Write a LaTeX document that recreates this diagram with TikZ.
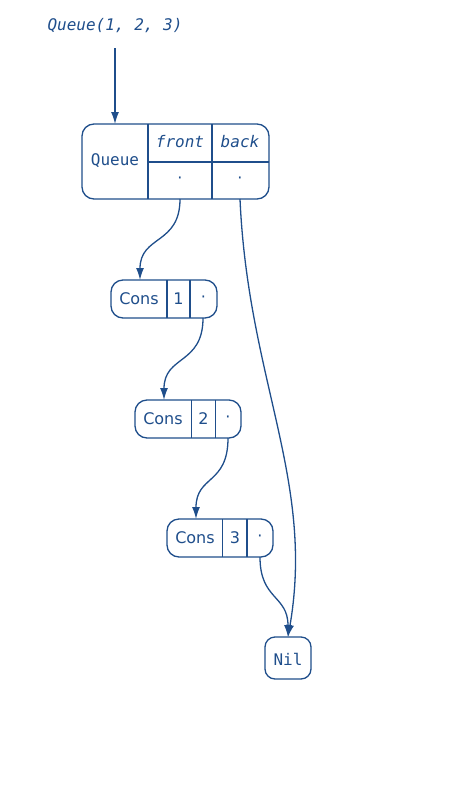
\documentclass[tikz,border=0pt]{standalone}
\usepackage{fontspec}
\setsansfont{DejaVu Sans}
\setmonofont{DejaVu Sans Mono}
\usetikzlibrary{arrows.meta}
\definecolor{qblue}{RGB}{31,78,139}
\begin{document}
\begin{tikzpicture}[x=1pt,y=1pt,
  box/.style={draw=qblue, line width=1.3pt, rounded corners=12pt, inner sep=0pt},
  divider/.style={draw=qblue, line width=1.2pt},
  mono/.style={text=qblue, font=\fontsize{16}{18}\selectfont\ttfamily},
  monoit/.style={text=qblue, font=\fontsize{16}{18}\selectfont\ttfamily\itshape},
  sans/.style={text=qblue, font=\fontsize{16}{18}\selectfont\sffamily},
  dotc/.style={text=qblue, font=\fontsize{16}{18}\selectfont\sffamily, inner sep=0pt},
  link/.style={draw=qblue, line width=1.3pt, -{Latex[length=12pt,width=8pt]}}]
\useasboundingbox (0,0) rectangle (474,-809);

% title
\node[monoit] (title) at (115,-26) {Queue(1, 2, 3)};
\coordinate (tstart) at (115,-48);

% Queue box
\node[box, minimum width=187, minimum height=75] (q) at (175.5,-161.5) {};
\draw[divider] (148,-124) -- (148,-199);
\draw[divider] (212,-124) -- (212,-199);
\draw[divider] (148,-162) -- (269,-162);
\node[mono] (qname) at (115,-161) {Queue};
\node[monoit] (qfront) at (180,-142) {front};
\node[monoit] (qback) at (240,-142) {back};
\node[dotc] (qf) at (180,-180) {·};
\node[dotc] (qb) at (240,-180) {·};
\coordinate (qfb) at (180,-199);
\coordinate (qbb) at (240,-199);
\coordinate (qtop) at (115,-124);

% Cons 1
\node[box, minimum width=106, minimum height=38] (c1) at (164,-299) {};
\draw[divider] (167,-280) -- (167,-318);
\draw[divider] (190,-280) -- (190,-318);
\node[sans] (c1n) at (139,-299) {Cons};
\node[sans] (c1v) at (178.5,-299) {1};
\node[dotc] (c1d) at (203.5,-299) {·};
\coordinate (c1top) at (140,-280);
\coordinate (c1b) at (203,-318);

% Cons 2
\node[box, minimum width=106, minimum height=38] (c2) at (188,-419) {};
\draw[divider] (191.5,-400) -- (191.5,-438);
\draw[divider] (215.5,-400) -- (215.5,-438);
\node[sans] (c2n) at (163,-419) {Cons};
\node[sans] (c2v) at (203.5,-419) {2};
\node[dotc] (c2d) at (228,-419) {·};
\coordinate (c2top) at (164,-400);
\coordinate (c2b) at (228,-438);

% Cons 3
\node[box, minimum width=106, minimum height=38] (c3) at (220,-538) {};
\draw[divider] (222.5,-519) -- (222.5,-557);
\draw[divider] (247,-519) -- (247,-557);
\node[sans] (c3n) at (195,-538) {Cons};
\node[sans] (c3v) at (235,-538) {3};
\node[dotc] (c3d) at (260,-538) {·};
\coordinate (c3top) at (196,-519);
\coordinate (c3b) at (260,-557);

% Nil
\node[box, rounded corners=10pt, minimum width=46, minimum height=42] (nil) at (288,-658) {};
\node[mono] (niltext) at (288,-659) {Nil};
\coordinate (niltop) at (288,-637);

% connectors
\draw[link] (tstart) -- (qtop);
\draw[link] (qfb) .. controls (180,-245) and (140,-235) .. (c1top);
\draw[link] (c1b) .. controls (203,-365) and (164,-355) .. (c2top);
\draw[link] (c2b) .. controls (228,-485) and (196,-475) .. (c3top);
\draw[link] (c3b) .. controls (260,-600) and (288,-595) .. (niltop);
\draw[link] (qbb) .. controls (248,-380) and (315,-480) .. (niltop);
\end{tikzpicture}
\end{document}
